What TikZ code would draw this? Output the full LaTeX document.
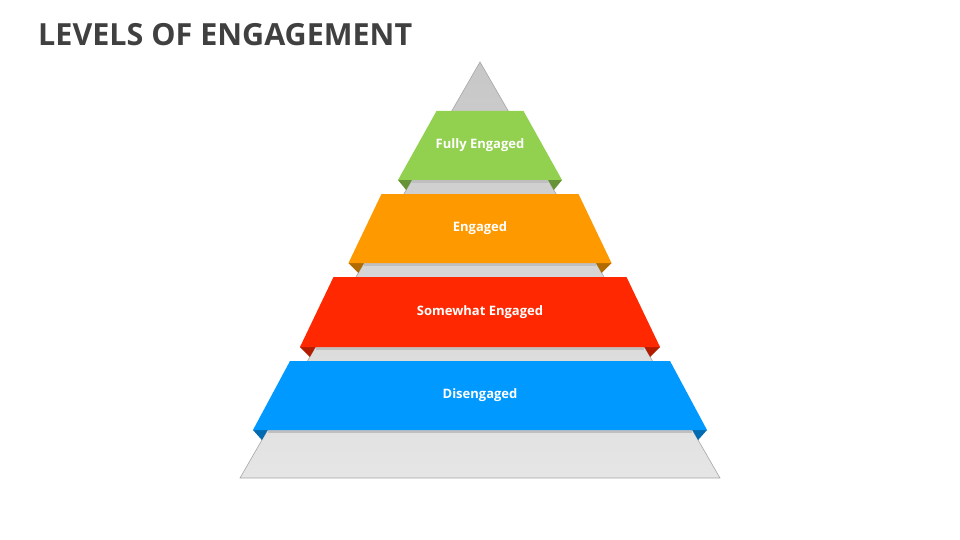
\documentclass[tikz,border=0pt]{standalone}
\usepackage{fontspec}
\setmainfont{Open Sans}
\begin{document}
\begin{tikzpicture}[x=1pt,y=-1pt,
  lbl/.style={text=white,font=\fontsize{13}{15}\selectfont\bfseries}]
\useasboundingbox (0,0) rectangle (960,540);
\node[anchor=west,font=\fontsize{30.5}{34}\selectfont\bfseries,text=black!75,inner sep=0pt] (title) at (38,35) {LEVELS OF ENGAGEMENT};
\shade[top color=black!22,bottom color=black!10,draw=black!35,line width=0.6pt] (480,62) -- (720,478) -- (240,478) -- cycle;
\coordinate (apex) at (480,62);
\newcommand\band[7]{%
  \pgfmathsetmacro\ex{({#2}+10-62)*0.577}%
  \pgfmathsetmacro\ey{({#2}-62)*0.577}%
  \fill[#5!70!black] (480-#4,#2) -- (480-\ey,#2) -- (480-\ex,#2+10) -- cycle;
  \fill[#5!70!black] (480+#4,#2) -- (480+\ey,#2) -- (480+\ex,#2+10) -- cycle;
  \fill[black!25] (480-\ey,#2) rectangle (480+\ey,#2+3);
  \fill[#5] (480-#3,#1) -- (480+#3,#1) -- (480+#4,#2) -- (480-#4,#2) -- cycle;
  \node[lbl] (#7) at (480,{(#1+#2)/2}) {#6};}
\definecolor{cg}{HTML}{92D050}
\definecolor{co}{HTML}{FF9900}
\definecolor{cr}{HTML}{FF2800}
\definecolor{cb}{HTML}{0099FF}
\band{111}{180}{43.5}{82}{cg}{Fully Engaged}{l1}
\band{194}{263}{98.5}{131.5}{co}{Engaged}{l2}
\band{277}{347}{146.5}{180}{cr}{Somewhat Engaged}{l3}
\band{361}{430}{190}{227}{cb}{Disengaged}{l4}
\end{tikzpicture}
\end{document}
